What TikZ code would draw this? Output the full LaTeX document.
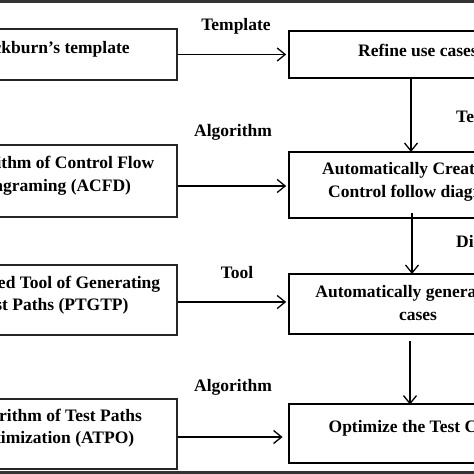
\documentclass[tikz,border=0pt]{standalone}
\usepackage{fontspec}
\setmainfont{Liberation Serif}
\usetikzlibrary{arrows.meta}
\definecolor{bar}{HTML}{333333}
\begin{document}
\begin{tikzpicture}[x=1pt,y=-1pt,
  font=\fontsize{17.5}{22.5}\selectfont\bfseries,
  lbox/.style={draw=black!85,line width=1.1pt,minimum width=247pt,inner sep=0pt},
  rbox/.style={draw=black,line width=2.8pt,minimum width=258pt,inner sep=0pt},
  txt/.style={align=center,inner sep=0pt},
  lab/.style={inner sep=0pt},
  arr/.style={line width=1.3pt,-{Straight Barb[length=8pt,width=13pt,line width=1.3pt]}}]
\useasboundingbox (0,0) rectangle (474,474);
\clip (0,0) rectangle (474,474);
\fill[white] (0,0) rectangle (474,474);
% bars
\fill[bar] (0,0) rectangle (474,2.5);
\fill[bar] (0,471) rectangle (474,474);
% left boxes
\node[lbox,minimum height=51pt] (L1) at (53.5,54.5) {};
\node[lbox,minimum height=72pt] (L2) at (53.5,181) {};
\node[lbox,minimum height=70pt] (L3) at (53.5,300) {};
\node[lbox,minimum height=70pt] (L4) at (53.5,434) {};
\node[txt] (T1) at (51,49) {Cockburn’s template};
\node[txt] (T2) at (54,176) {Algorithm of Control Flow\\Diagraming (ACFD)};
\node[txt] (T3) at (53,295) {Proposed Tool of Generating\\Test Paths (PTGTP)};
\node[txt] (T4) at (53,428) {Algorithm of Test Paths\\Optimization (ATPO)};
% right boxes
\node[rbox,minimum height=47pt] (R1) at (418,54.5) {};
\node[rbox,minimum height=66pt] (R2) at (418,185) {};
\node[rbox,minimum height=60pt] (R3) at (418,304) {};
\node[rbox,minimum height=59pt] (R4) at (418,433.5) {};
\node[txt] (S1) at (418,50) {Refine use cases};
\node[txt,align=left,anchor=west] (S2) at (322,182) {Automatically Create\\\hspace*{6pt}Control follow diagram};
\node[txt] (S3) at (418,303) {Automatically generate test\\cases};
\node[txt] (S4) at (418,428) {Optimize the Test Cases};
% arrow end points
\coordinate (a2s) at ([yshift=-5pt]L2.east);
\coordinate (a2e) at ([xshift=-1.4pt,yshift=-1pt]R2.west);
\coordinate (a3s) at ([yshift=-2pt]L3.east);
\coordinate (a3e) at ([xshift=-1.4pt,yshift=2pt]R3.west);
\coordinate (a4s) at ([yshift=-3pt]L4.east);
\coordinate (a4e) at ([xshift=-5pt,yshift=-3.5pt]R4.west);
% horizontal arrows
\draw[arr] (L1.east) -- ([xshift=-1.4pt]R1.west);
\draw[arr] (a2s) -- (a2e);
\draw[arr] (a3s) -- (a3e);
\draw[arr] (a4s) -- (a4e);
% vertical arrows
\draw[arr] ([xshift=-7pt,yshift=1.4pt]R1.south) -- ([xshift=-7pt,yshift=-1.4pt]R2.north);
\draw[arr] ([xshift=-6pt,yshift=6pt]R2.south) -- ([xshift=-6pt,yshift=-1.4pt]R3.north);
\draw[arr] ([xshift=-8pt,yshift=-6pt]R3.south) -- ([xshift=-8pt,yshift=-2pt]R4.north);
% labels
\node[lab] (A1) at (236,26) {Template};
\node[lab] (A2) at (233,132) {Algorithm};
\node[lab] (A3) at (237,273) {Tool};
\node[lab] (A4) at (233,387) {Algorithm};
\node[lab,anchor=west] (B1) at (456,117) {Text};
\node[lab,anchor=west] (B2) at (456,243) {Diagram};
\end{tikzpicture}
\end{document}
